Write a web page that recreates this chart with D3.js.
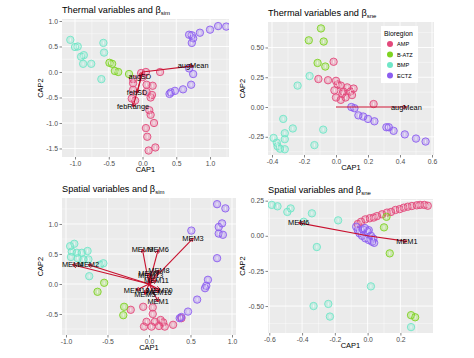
<!DOCTYPE html>
<html><head><meta charset="utf-8">
<script src="https://cdn.jsdelivr.net/npm/d3@7"></script>
<style>body{margin:0;background:#fff}svg{display:block}text{font-family:"Liberation Sans",Arial,sans-serif}</style>
</head><body>
<script>
// ---------- DATA ----------
const bioregions = ["AMP","B-ATZ","BMP","ECTZ"];
const bioColors = ["#E3497C","#7ED321","#6FE6C7","#8C5EF0"];

// Panel 1: Thermal variables, beta sim
const p1AMP = [[0.05,0.0],[0.26,0.0],[-0.02,-0.02],[0.0,-0.1],[-0.14,-0.14],[-0.14,-0.22],[0.06,-0.25],[0.15,-0.27],[-0.14,-0.35],[0.06,-0.39],[0.14,-0.45],[0.12,-0.5],[-0.16,-0.52],[-0.11,-0.56],[0.1,-0.75],[0.12,-0.84],[0.17,-1.0],[0.05,-1.1],[0.07,-1.27],[0.19,-1.48],[0.09,-1.54]];
const p1BATZ = [[-0.49,0.18],[-0.45,0.16],[-0.41,0.02],[-0.36,0.0],[-0.2,-0.04]];
const p1BMP = [[-1.07,0.63],[-1.0,0.49],[-0.96,0.5],[-0.91,0.3],[-0.87,0.33],[-0.88,0.16],[-0.76,0.16],[-0.58,0.57],[-0.57,0.38],[-0.61,-0.14]];
const p1ECTZ = [[0.69,0.73],[0.73,0.72],[0.75,0.66],[0.73,0.57],[0.85,0.77],[1.0,0.83],[1.12,0.9],[1.24,0.89],[0.69,0.07],[0.75,-0.04],[0.72,-0.25],[0.6,-0.34],[0.48,-0.37],[0.42,-0.4],[0.4,-0.43]];
const p1VarNames = ["augMean","augSD","febSD","febRange"];
const p1VarX = [0.75,-0.04,-0.08,-0.14];
const p1VarY = [0.12,-0.08,-0.41,-0.68];

// Panel 2: Thermal variables, beta sne
const p2AMP = [[-0.015,0.38],[-0.11,0.235],[-0.05,0.225],[0.0,0.22],[0.01,0.19],[0.03,0.18],[0.07,0.165],[0.11,0.155],[-0.01,0.14],[0.045,0.13],[0.09,0.13],[0.04,0.11],[0.1,0.1],[0.0,0.08],[0.06,0.08],[0.03,0.06],[0.235,0.025]];
const p2BATZ = [[-0.094,0.66],[-0.17,0.56],[-0.077,0.55],[-0.115,0.37],[-0.067,0.34]];
const p2BMP = [[-0.165,0.26],[-0.24,0.18],[-0.33,-0.1],[-0.27,-0.18],[-0.32,-0.22],[-0.32,-0.27],[-0.39,-0.26],[-0.37,-0.3],[-0.365,-0.33],[-0.35,-0.35],[-0.32,-0.355],[-0.135,-0.32],[-0.08,-0.19]];
const p2ECTZ = [[0.096,0.0],[0.115,-0.01],[0.14,-0.07],[0.17,-0.08],[0.2,-0.1],[0.24,-0.12],[0.315,-0.17],[0.33,-0.17],[0.36,-0.2],[0.43,-0.23],[0.5,-0.265],[0.56,-0.29]];
const p2VarNames = ["augMean"];
const p2VarX = [0.44];
const p2VarY = [0.0];

// Panel 3: Spatial variables, beta sim
const p3AMP = [[-0.22,-0.43],[-0.07,-0.38],[0.045,-0.39],[0.045,-0.5],[-0.03,-0.63],[0.07,-0.63],[-0.06,-0.71],[0.03,-0.71],[0.14,-0.6],[0.17,-0.64],[0.19,-0.71],[0.12,-0.7],[0.29,-0.68],[0.39,-0.57]];
const p3BATZ = [[-0.54,0.02],[-0.62,-0.13],[-0.3,-0.38],[-0.31,-0.52]];
const p3BMP = [[-0.95,0.63],[-0.9,0.67],[-0.93,0.54],[-0.87,0.52],[-0.81,0.52],[-0.74,0.55],[-0.94,0.45],[-0.86,0.43],[-0.79,0.41],[-0.73,0.41],[-0.59,0.32],[-0.55,0.345],[-0.72,0.13]];
const p3ECTZ = [[0.51,0.89],[0.82,1.33],[0.92,1.26],[0.88,1.01],[0.84,0.95],[0.89,0.82],[0.84,0.84],[0.82,0.43],[0.71,0.07],[0.69,-0.03],[0.675,-0.07],[0.58,-0.26],[0.47,-0.46],[0.39,-0.55],[0.37,-0.57]];
const p3VarNames = ["MEM3","MEM9","MEM6","MEM2","MEM4","MEM8","MEM7","MEM13","MEM11","MEM20","MEM16","MEM10","MEM5","MEM1"];
const p3VarX = [0.53,-0.08,0.11,-0.73,-0.92,0.12,0.0,0.02,0.09,0.13,0.12,-0.15,-0.05,0.11];
const p3VarY = [0.76,0.58,0.57,0.32,0.32,0.23,0.18,0.14,0.06,-0.1,-0.14,-0.1,-0.17,-0.29];

// Panel 4: Spatial variables, beta sne
const p4AMP = [[-0.06,0.084],[-0.04,0.1],[-0.014,0.117],[0.013,0.125],[0.037,0.13],[0.057,0.14],[0.088,0.153],[0.118,0.165],[0.143,0.17],[0.17,0.184],[0.196,0.19],[0.22,0.2],[0.245,0.207],[0.27,0.212],[0.3,0.217],[0.32,0.22],[0.346,0.22],[0.367,0.214]];
const p4BATZ = [[0.115,0.135],[0.1,0.06],[0.135,-0.125],[0.265,-0.565],[0.29,-0.58]];
const p4BMP = [[-0.585,0.22],[-0.55,0.21],[-0.49,0.17],[-0.47,0.195],[-0.34,0.16],[-0.18,0.11],[-0.39,0.1],[-0.31,-0.08],[0.02,-0.36],[-0.33,-0.5],[-0.24,-0.485],[-0.23,-0.575],[0.265,-0.65]];
const p4ECTZ = [[-0.07,0.065],[-0.06,0.04],[-0.05,0.018],[-0.034,0.0],[-0.014,-0.018],[0.007,-0.03],[0.027,-0.042],[0.04,-0.05],[0.007,0.04],[-0.016,0.055],[0.0,0.03],[-0.03,0.045],[0.02,0.0],[0.035,-0.02]];
const p4VarNames = ["MEM6","MEM1"];
const p4VarX = [-0.42,0.24];
const p4VarY = [0.092,-0.04];

// Tick values
const p1XTicks = [-1.0,-0.5,0.0,0.5,1.0], p1YTicks = [-1.5,-1.0,-0.5,0.0,0.5,1.0];
const p2XTicks = [-0.4,-0.2,0.0,0.2,0.4,0.6], p2YTicks = [-0.25,0.0,0.25,0.5];
const p3XTicks = [-1.0,-0.5,0.0,0.5,1.0], p3YTicks = [-0.5,0.0,0.5,1.0];
const p4XTicks = [-0.6,-0.4,-0.2,0.0,0.2], p4YTicks = [-0.5,-0.25,0.0,0.25];

// ---------- LAYOUT ----------
const W = 474, H = 358;
const svg = d3.select("body").append("svg").attr("width", W).attr("height", H);

const panels = [
  {title:"Thermal variables and β", sub:"sim", box:[62,229,19,157], xd:[-1.193,1.281], yd:[1.039,-1.667],
   xt:p1XTicks, yt:p1YTicks, xf:".1f", yf:".1f", pts:[p1AMP,p1BATZ,p1BMP,p1ECTZ], vn:p1VarNames, vx:p1VarX, vy:p1VarY},
  {title:"Thermal variables and β", sub:"sne", box:[268,434,22,155], xd:[-0.425,0.6125], yd:[0.714,-0.403],
   xt:p2XTicks, yt:p2YTicks, xf:".1f", yf:".2f", pts:[p2AMP,p2BATZ,p2BMP,p2ECTZ], vn:p2VarNames, vx:p2VarX, vy:p2VarY, legend:true},
  {title:"Spatial variables and β", sub:"sim", box:[62,236,198,335], xd:[-1.048,1.048], yd:[1.433,-0.85],
   xt:p3XTicks, yt:p3YTicks, xf:".1f", yf:".1f", pts:[p3AMP,p3BATZ,p3BMP,p3ECTZ], vn:p3VarNames, vx:p3VarX, vy:p3VarY},
  {title:"Spatial variables and β", sub:"sne", box:[268,433,199,333], xd:[-0.608,0.399], yd:[0.262,-0.692],
   xt:p4XTicks, yt:p4YTicks, xf:".1f", yf:".2f", pts:[p4AMP,p4BATZ,p4BMP,p4ECTZ], vn:p4VarNames, vx:p4VarX, vy:p4VarY}
];

const arrowCol = "#C8102E";
const defs = svg.append("defs");
defs.append("marker").attr("id","ah").attr("viewBox","0 0 10 10").attr("refX",9).attr("refY",5)
  .attr("markerWidth",4).attr("markerHeight",4).attr("orient","auto")
  .append("path").attr("d","M0,0 L10,5 L0,10").attr("fill","none").attr("stroke",arrowCol).attr("stroke-width",2);

panels.forEach((p, pi) => {
  const [L,R,T,B] = p.box;
  const x = d3.scaleLinear().domain(p.xd).range([L,R]);
  const y = d3.scaleLinear().domain(p.yd).range([T,B]);
  const g = svg.append("g");
  g.append("rect").attr("x",L).attr("y",T).attr("width",R-L).attr("height",B-T).attr("fill","#EBEBEB");
  const minor = (ticks, dom) => {
    const st = ticks[1]-ticks[0], out = [];
    const lo = Math.min(...dom), hi = Math.max(...dom);
    for (let v = ticks[0]-st/2; v <= hi; v += st) if (v >= lo) out.push(v);
    return out;
  };
  g.selectAll(".mx").data(minor(p.xt,p.xd)).enter().append("line")
    .attr("x1",d=>x(d)).attr("x2",d=>x(d)).attr("y1",T).attr("y2",B).attr("stroke","#fff").attr("stroke-width",0.4);
  g.selectAll(".my").data(minor(p.yt,p.yd)).enter().append("line")
    .attr("y1",d=>y(d)).attr("y2",d=>y(d)).attr("x1",L).attr("x2",R).attr("stroke","#fff").attr("stroke-width",0.4);
  g.selectAll(".gx").data(p.xt).enter().append("line")
    .attr("x1",d=>x(d)).attr("x2",d=>x(d)).attr("y1",T).attr("y2",B).attr("stroke","#fff").attr("stroke-width",0.9);
  g.selectAll(".gy").data(p.yt).enter().append("line")
    .attr("y1",d=>y(d)).attr("y2",d=>y(d)).attr("x1",L).attr("x2",R).attr("stroke","#fff").attr("stroke-width",0.9);

  const ax = g.append("g").attr("transform",`translate(0,${B})`)
    .call(d3.axisBottom(x).tickValues(p.xt).tickFormat(d3.format(p.xf)).tickSize(2.5).tickPadding(1.5));
  const ay = g.append("g").attr("transform",`translate(${L},0)`)
    .call(d3.axisLeft(y).tickValues(p.yt).tickFormat(d3.format(p.yf)).tickSize(2.5).tickPadding(1.5));
  [ax,ay].forEach(a => {
    a.select(".domain").remove();
    a.selectAll("line").attr("stroke","#333").attr("stroke-width",0.6);
    a.selectAll("text").attr("fill","#4D4D4D").attr("font-size",6.8).style("font-family",'"Liberation Sans",Arial,sans-serif');
    a.selectAll("text").text(function(){return d3.select(this).text().replace("−","-");});
  });

  g.append("text").attr("x",(L+R)/2).attr("y",B+15).attr("text-anchor","middle").attr("font-size",7.5).attr("fill","#000").text("CAP1");
  const yl = (pi%2===0) ? 43 : 245;
  g.append("text").attr("transform",`translate(${yl},${(T+B)/2}) rotate(-90)`).attr("text-anchor","middle")
    .attr("font-size",7.5).attr("fill","#000").text("CAP2");

  const tt = g.append("text").attr("x",L).attr("y",T-6).attr("font-size",9.2).attr("fill","#000");
  tt.append("tspan").text(p.title);
  tt.append("tspan").attr("font-size",6).attr("dy",2).text(p.sub);

  const clip = "clip"+pi;
  defs.append("clipPath").attr("id",clip).append("rect").attr("x",L).attr("y",T).attr("width",R-L).attr("height",B-T);
  const pg = g.append("g").attr("clip-path",`url(#${clip})`);
  p.pts.forEach((arr, ci) => {
    pg.selectAll(null).data(arr).enter().append("circle")
      .attr("cx",d=>x(d[0])).attr("cy",d=>y(d[1])).attr("r",3.7)
      .attr("fill",bioColors[ci]).attr("fill-opacity",0.3)
      .attr("stroke",bioColors[ci]).attr("stroke-width",0.9);
    pg.selectAll(null).data(arr).enter().append("line")
      .attr("x1",d=>x(d[0])).attr("x2",d=>x(d[0])).attr("y1",d=>y(d[1])-1.5).attr("y2",d=>y(d[1])+1.5)
      .attr("stroke","#fff").attr("stroke-width",0.7);
  });

  const vars = p.vn.map((n,i)=>({n, vx:p.vx[i], vy:p.vy[i]}));
  g.selectAll(null).data(vars).enter().append("line")
    .attr("x1",x(0)).attr("y1",y(0)).attr("x2",d=>x(d.vx)).attr("y2",d=>y(d.vy))
    .attr("stroke",arrowCol).attr("stroke-width",1.1).attr("marker-end","url(#ah)");
  g.selectAll(null).data(vars).enter().append("text")
    .attr("x",d=>x(d.vx)).attr("y",d=>y(d.vy)+2.6).attr("text-anchor","middle")
    .attr("font-size",7.4).attr("fill","#000").text(d=>d.n);

  if (p.legend) {
    const lg = g.append("g");
    lg.append("rect").attr("x",381).attr("y",26).attr("width",37).attr("height",57).attr("fill","#fff");
    lg.append("text").attr("x",384).attr("y",36).attr("font-size",6.8).attr("fill","#000").text("Bioregion");
    bioregions.forEach((b,i)=>{
      const cy = 44 + i*10.5;
      lg.append("circle").attr("cx",390).attr("cy",cy).attr("r",3).attr("fill",bioColors[i]);
      lg.append("text").attr("x",397).attr("y",cy+2.2).attr("font-size",5.6).attr("fill","#000").text(b);
    });
  }
});
</script>
</body></html>
